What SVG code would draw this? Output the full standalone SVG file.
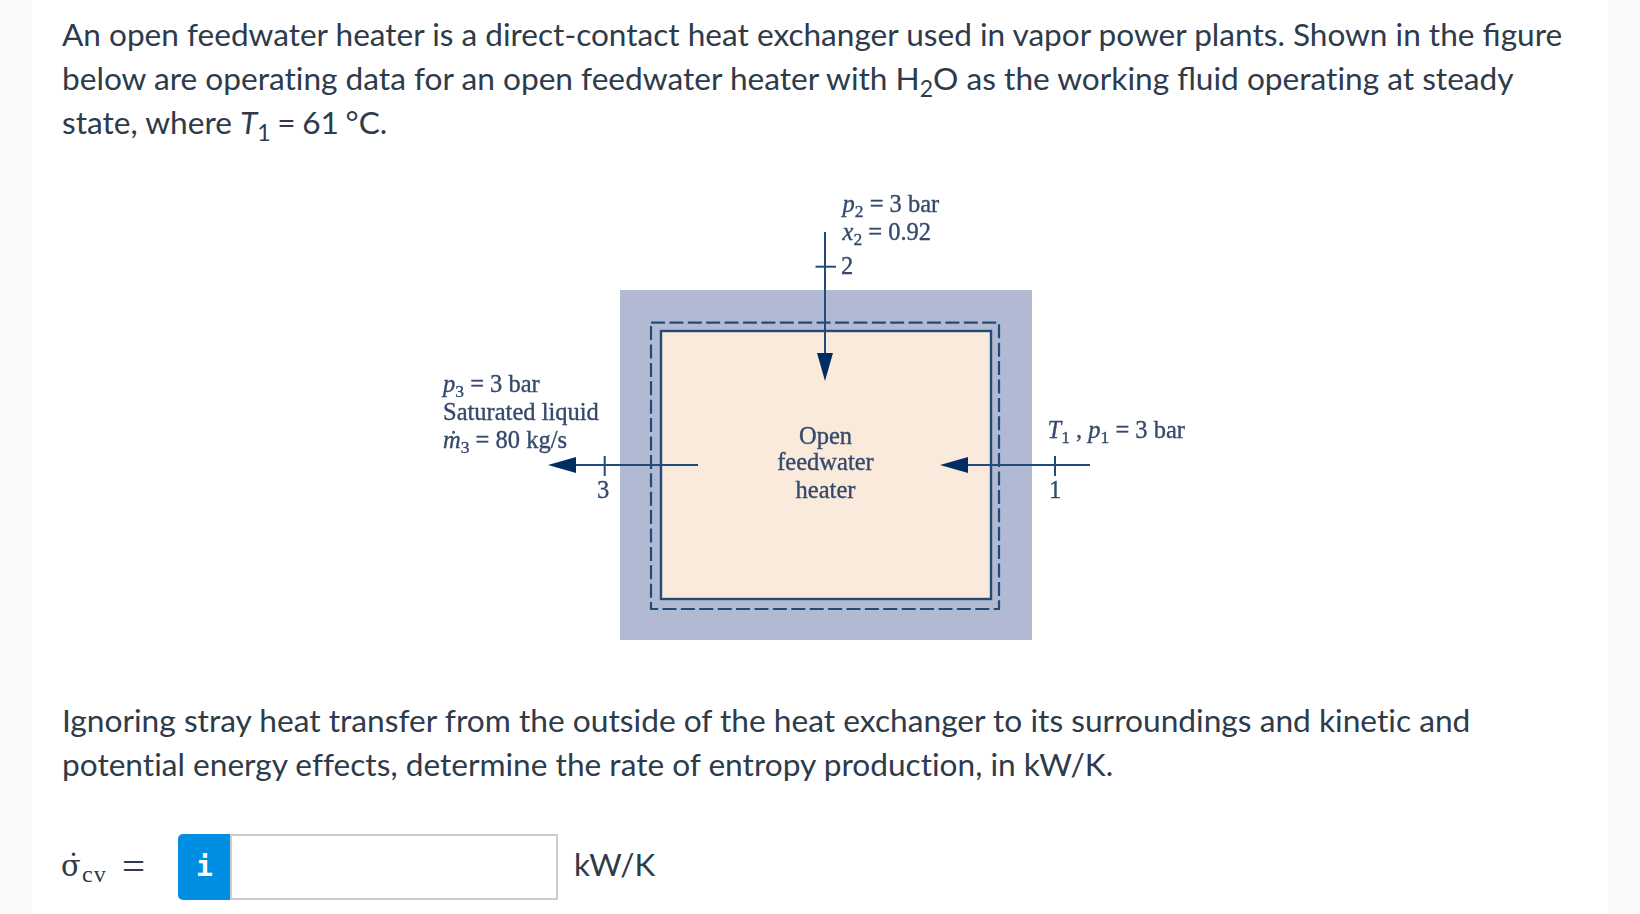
<svg xmlns="http://www.w3.org/2000/svg" width="1640" height="914" viewBox="0 0 1640 914">
<style>
.q{font-family:"Lato","Liberation Sans",sans-serif;font-size:31.65px;fill:#2d3b4a;font-variant-ligatures:none}
.lig{font-variant-ligatures:normal}
.s{font-family:"Liberation Serif",serif;font-size:24.5px;fill:#34496c;stroke:#34496c;stroke-width:0.35}
.m{text-anchor:middle}
.i{font-style:italic}
.line{stroke:#234c79;stroke-width:2;fill:none}
.wall{stroke:#234c79;fill:none}
</style>
<defs>
<marker id="head" markerUnits="userSpaceOnUse" markerWidth="30" markerHeight="18" refX="0" refY="9" orient="auto"><path d="M0 1L28 9L0 17Z" fill="#052f63"/></marker>
<filter id="soft" x="-5%" y="-5%" width="110%" height="110%"><feGaussianBlur stdDeviation="0.6"/></filter>
</defs>
<rect width="1640" height="914" fill="#ffffff"/>
<rect width="31.5" height="914" fill="#f9f9f9"/>
<rect x="1608" width="32" height="914" fill="#f9f9f9"/>
<g id="question-top">
<text class="q" x="62" y="45.5" style="font-size:31.58px">An open feedwater heater is a direct-contact heat exchanger used in vapor power plants. Shown in the <tspan class="lig">fi</tspan>gure</text>
<text class="q" x="62" y="89.5">below are operating data for an open feedwater heater with H<tspan font-size="23" dy="7">2</tspan><tspan dy="-7">O as the working </tspan><tspan class="lig">fl</tspan>uid operating at steady</text>
<text class="q" x="62" y="133.5">state, where <tspan class="i">T</tspan><tspan font-size="23" dy="7">1</tspan><tspan dy="-7" word-spacing="-1.5"> = 61 °C.</tspan></text>
</g>
<g filter="url(#soft)">
<g id="heater">
<rect x="620" y="290" width="412" height="350" fill="#b1b9d3"/>
<rect x="661" y="331" width="330" height="268" fill="#faeadc" stroke="#234c79" stroke-width="2.4"/>
<rect x="651" y="322.7" width="348" height="286.3" class="wall" stroke-width="2.2" stroke-dasharray="14 4.4"/>
<text class="s m" x="825.5" y="444">Open</text>
<text class="s m" x="825.5" y="470">feedwater</text>
<text class="s m" x="825.5" y="498">heater</text>
</g>
<g id="connectors">
<line class="line" x1="825" y1="232" x2="825" y2="353" marker-end="url(#head)"/>
<line class="line" x1="815.5" y1="266.7" x2="836" y2="266.7"/>
<line class="line" x1="698" y1="465" x2="576" y2="465" marker-end="url(#head)"/>
<line class="line" x1="604.7" y1="456" x2="604.7" y2="476"/>
<line class="line" x1="1090" y1="465" x2="968" y2="465" marker-end="url(#head)"/>
<line class="line" x1="1055" y1="456" x2="1055" y2="476"/>
</g>
<g id="state-2">
<text class="s" x="842.5" y="212"><tspan class="i">p</tspan><tspan font-size="17.5" dy="5">2</tspan><tspan dy="-5"> = 3 bar</tspan></text>
<text class="s" x="842.5" y="240"><tspan class="i">x</tspan><tspan font-size="17.5" dy="5">2</tspan><tspan dy="-5"> = 0.92</tspan></text>
<text class="s" x="841" y="274">2</text>
</g>
<g id="state-3">
<text class="s" x="443" y="392"><tspan class="i">p</tspan><tspan font-size="17.5" dy="5">3</tspan><tspan dy="-5"> = 3 bar</tspan></text>
<text class="s" x="443" y="420">Saturated liquid</text>
<text class="s" x="443" y="448"><tspan class="i">ṁ</tspan><tspan font-size="17.5" dy="5">3</tspan><tspan dy="-5"> = 80 kg/s</tspan></text>
<text class="s m" x="603" y="498">3</text>
</g>
<g id="state-1">
<text class="s" x="1047.5" y="438"><tspan class="i">T</tspan><tspan font-size="17.5" dy="5">1</tspan><tspan dy="-5"> , </tspan><tspan class="i">p</tspan><tspan font-size="17.5" dy="5">1</tspan><tspan dy="-5"> = 3 bar</tspan></text>
<text class="s m" x="1055" y="498">1</text>
</g>
</g>
<g id="question-bottom">
<text class="q" x="62" y="731.5" style="font-size:31.7px">Ignoring stray heat transfer from the outside of the heat exchanger to its surroundings and kinetic and</text>
<text class="q" x="62" y="775.5">potential energy effects, determine the rate of entropy production, in kW/K.</text>
</g>
<g id="answer">
<text x="61" y="876" font-family="DejaVu Serif, serif" font-size="29" fill="#2d3b4a">σ̇<tspan x="82" font-family="Liberation Serif, serif" font-size="24" letter-spacing="1" dy="6">cv</tspan></text>
<text x="122" y="880" font-family="Liberation Serif, serif" font-size="41" fill="#2d3b4a">=</text>
<rect x="231" y="835" width="326" height="64" fill="#fff" stroke="#cccccc" stroke-width="2"/>
<path d="M183 834H230V900H183A5 5 0 0 1 178 895V839A5 5 0 0 1 183 834Z" fill="#008ee2"/>
<text x="204.5" y="876" text-anchor="middle" font-family="DejaVu Sans Mono, monospace" font-weight="700" font-size="28" fill="#fff">i</text>
<text class="q" x="574" y="876" style="font-size:31.4px">kW/K</text>
</g>
</svg>
